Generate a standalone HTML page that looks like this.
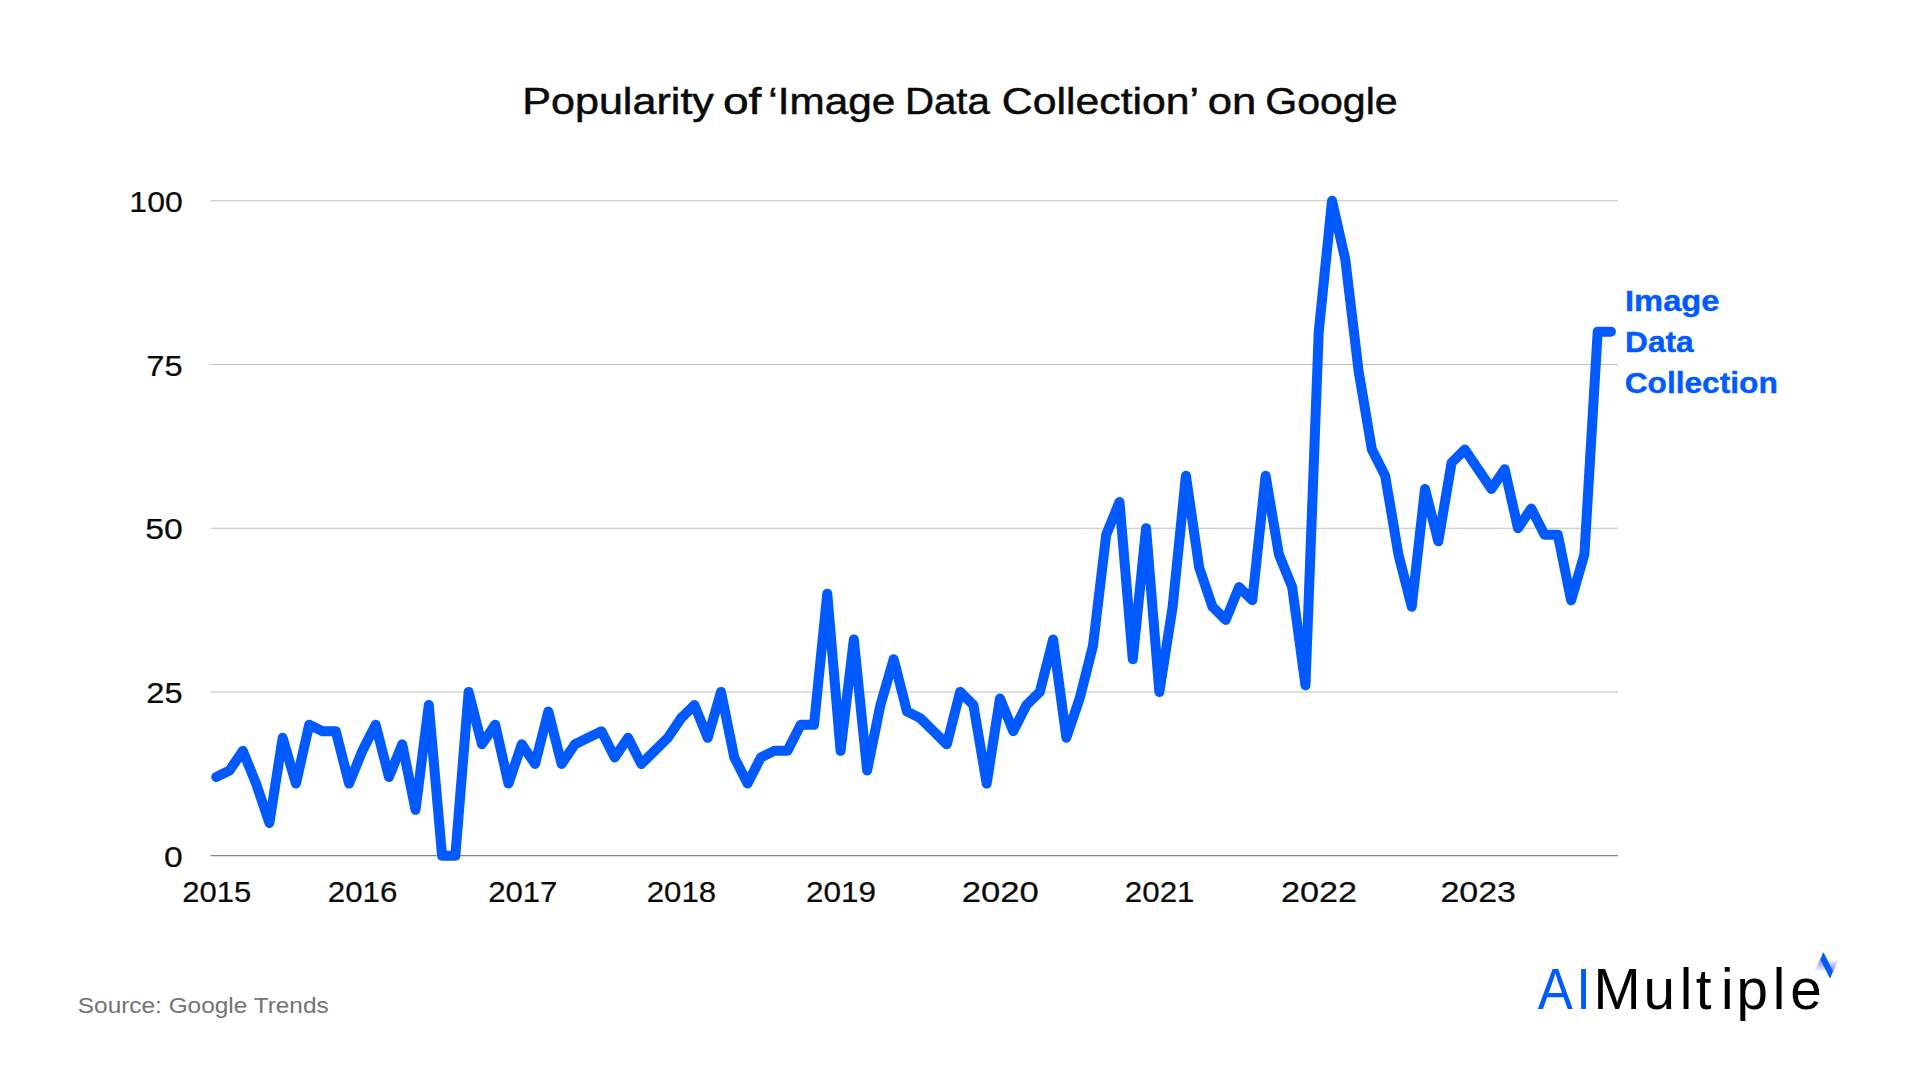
<!DOCTYPE html>
<html><head><meta charset="utf-8"><title>Popularity of Image Data Collection on Google</title>
<style>
html,body{margin:0;padding:0;background:#fff;}
body{width:1920px;height:1080px;overflow:hidden;position:relative;font-family:"Liberation Sans",sans-serif;}
svg{position:absolute;left:0;top:0;}
text{font-family:"Liberation Sans",sans-serif;}
.t{font-size:37.4px;fill:#0a0a0a;stroke:#0a0a0a;stroke-width:0.5px;}
.a{font-size:30.4px;fill:#0a0a0a;stroke:#0a0a0a;stroke-width:0.22px;}
.l{font-size:29.6px;font-weight:bold;fill:#005aff;stroke:#005aff;stroke-width:0.4px;}
.s{font-size:21.6px;fill:#737373;}
.ai{font-size:56.6px;fill:#005aff;}
.m{font-size:56.6px;fill:#000;}
</style></head><body>
<svg width="1920" height="1080" viewBox="0 0 1920 1080">
<defs>
<linearGradient id="wl" gradientUnits="userSpaceOnUse" x1="0" y1="958" x2="0" y2="972"><stop offset="0" stop-color="#6464ff" stop-opacity="0.9"/><stop offset="1" stop-color="#6464ff" stop-opacity="0"/></linearGradient>
<linearGradient id="wr" gradientUnits="userSpaceOnUse" x1="0" y1="959" x2="0" y2="972.5"><stop offset="0" stop-color="#6464ff" stop-opacity="0"/><stop offset="1" stop-color="#6464ff" stop-opacity="0.9"/></linearGradient>
</defs>
<g stroke="#bfbfbf" stroke-width="1">
<line x1="210.5" x2="1618" y1="200.75" y2="200.75"/>
<line x1="210.5" x2="1618" y1="364.5" y2="364.5"/>
<line x1="210.5" x2="1618" y1="528.25" y2="528.25"/>
<line x1="210.5" x2="1618" y1="692" y2="692"/>
</g>
<line x1="210.5" x2="1618" y1="855.65" y2="855.65" stroke="#858585" stroke-width="1.3"/>
<text class="t" transform="translate(522.15,113.70) scale(1.1536,1)">Popularity</text>
<text class="t" transform="translate(722.90,113.70) scale(1.2342,1)">of</text>
<text class="t" transform="translate(768.36,113.70) scale(1.1306,1)">‘Image</text>
<text class="t" transform="translate(904.88,113.70) scale(1.0755,1)">Data</text>
<text class="t" transform="translate(1001.86,113.70) scale(1.1433,1)">Collection’</text>
<text class="t" transform="translate(1207.65,113.70) scale(1.1670,1)">on</text>
<text class="t" transform="translate(1265.19,113.70) scale(1.0990,1)">Google</text>
<text class="a" transform="translate(129.36,211.90) scale(1.0528,1)">100</text>
<text class="a" transform="translate(146.37,375.65) scale(1.0739,1)">75</text>
<text class="a" transform="translate(145.15,539.40) scale(1.1111,1)">50</text>
<text class="a" transform="translate(146.37,703.15) scale(1.0739,1)">25</text>
<text class="a" transform="translate(163.99,866.90) scale(1.1077,1)">0</text>
<text class="a" transform="translate(182.20,902.10) scale(1.0191,1)">2015</text>
<text class="a" transform="translate(327.84,902.10) scale(1.0283,1)">2016</text>
<text class="a" transform="translate(488.14,902.10) scale(1.0246,1)">2017</text>
<text class="a" transform="translate(646.74,902.10) scale(1.0260,1)">2018</text>
<text class="a" transform="translate(806.02,902.10) scale(1.0370,1)">2019</text>
<text class="a" transform="translate(961.67,902.10) scale(1.1383,1)">2020</text>
<text class="a" transform="translate(1124.83,902.10) scale(1.0308,1)">2021</text>
<text class="a" transform="translate(1281.04,902.10) scale(1.1243,1)">2022</text>
<text class="a" transform="translate(1440.40,902.10) scale(1.1168,1)">2023</text>
<text class="l" transform="translate(1625.04,311.00) scale(1.1036,1)">Image</text>
<text class="l" transform="translate(1625.10,351.90) scale(1.0702,1)">Data</text>
<text class="l" transform="translate(1624.63,392.70) scale(1.0715,1)">Collection</text>
<text class="s" transform="translate(77.82,1012.50) scale(1.1298,1)">Source: Google Trends</text>
<text class="ai" transform="translate(1537.80,1009.3) scale(0.93,1)"><tspan x="0.00">A</tspan><tspan x="41.36">I</tspan></text>
<text class="m" transform="translate(1593.57,1009.3) scale(1.0,1)"><tspan x="0.00">M</tspan><tspan x="49.93">u</tspan><tspan x="86.13">l</tspan><tspan x="102.11">t</tspan><tspan x="127.43">i</tspan><tspan x="143.03">p</tspan><tspan x="179.28">l</tspan><tspan x="196.66">e</tspan></text>
<polyline fill="none" stroke="#005aff" stroke-width="10" stroke-linejoin="round" stroke-linecap="round" points="216.25,777.06 229.53,770.51 242.82,750.87 256.10,783.61 269.38,822.90 282.66,737.77 295.95,783.61 309.23,724.67 322.51,731.22 335.80,731.22 349.08,783.61 362.36,750.87 375.65,724.67 388.93,777.06 402.21,744.32 415.50,809.81 428.78,705.02 442.06,855.65 455.34,855.65 468.63,691.92 481.91,744.32 495.19,724.67 508.48,783.61 521.76,744.32 535.04,763.96 548.33,711.57 561.61,763.96 574.89,744.32 588.17,737.77 601.46,731.22 614.74,757.41 628.02,737.77 641.31,763.96 654.59,750.87 667.87,737.77 681.15,718.12 694.44,705.02 707.72,737.77 721.00,691.92 734.29,757.41 747.57,783.61 760.85,757.41 774.14,750.87 787.42,750.87 800.70,724.67 813.99,724.67 827.27,593.69 840.55,750.87 853.83,639.53 867.12,770.51 880.40,705.02 893.68,659.18 906.97,711.57 920.25,718.12 933.53,731.22 946.81,744.32 960.10,691.92 973.38,705.02 986.66,783.61 999.95,698.47 1013.23,731.22 1026.51,705.02 1039.80,691.92 1053.08,639.53 1066.36,737.77 1079.64,698.47 1092.93,646.08 1106.21,534.75 1119.49,502.00 1132.78,659.18 1146.06,528.20 1159.34,691.92 1172.63,606.79 1185.91,475.81 1199.19,567.49 1212.47,606.79 1225.76,619.89 1239.04,587.14 1252.32,600.24 1265.61,475.81 1278.89,554.40 1292.17,587.14 1305.46,685.38 1318.74,331.73 1332.02,200.75 1345.31,259.69 1358.59,371.02 1371.87,449.61 1385.15,475.81 1398.44,554.40 1411.72,606.79 1425.00,488.91 1438.29,541.30 1451.57,462.71 1464.85,449.61 1478.13,469.26 1491.42,488.91 1504.70,469.26 1517.98,528.20 1531.27,508.55 1544.55,534.75 1557.83,534.75 1571.12,600.24 1584.40,554.40 1597.68,331.73 1610.96,331.73"/>
<g id="icon">
<polygon points="1821.5,956.3 1814.4,971.9 1826.8,971.9" fill="url(#wl)"/>
<polygon points="1832.3,973.2 1838.9,959 1826.8,959" fill="url(#wr)"/>
<polygon points="1823.4,953.5 1832.0,970.8 1830.1,977.2 1821.2,959.8" fill="#005aff" stroke="#005aff" stroke-width="1.4" stroke-linejoin="round"/>
</g>
</svg>
</body></html>
